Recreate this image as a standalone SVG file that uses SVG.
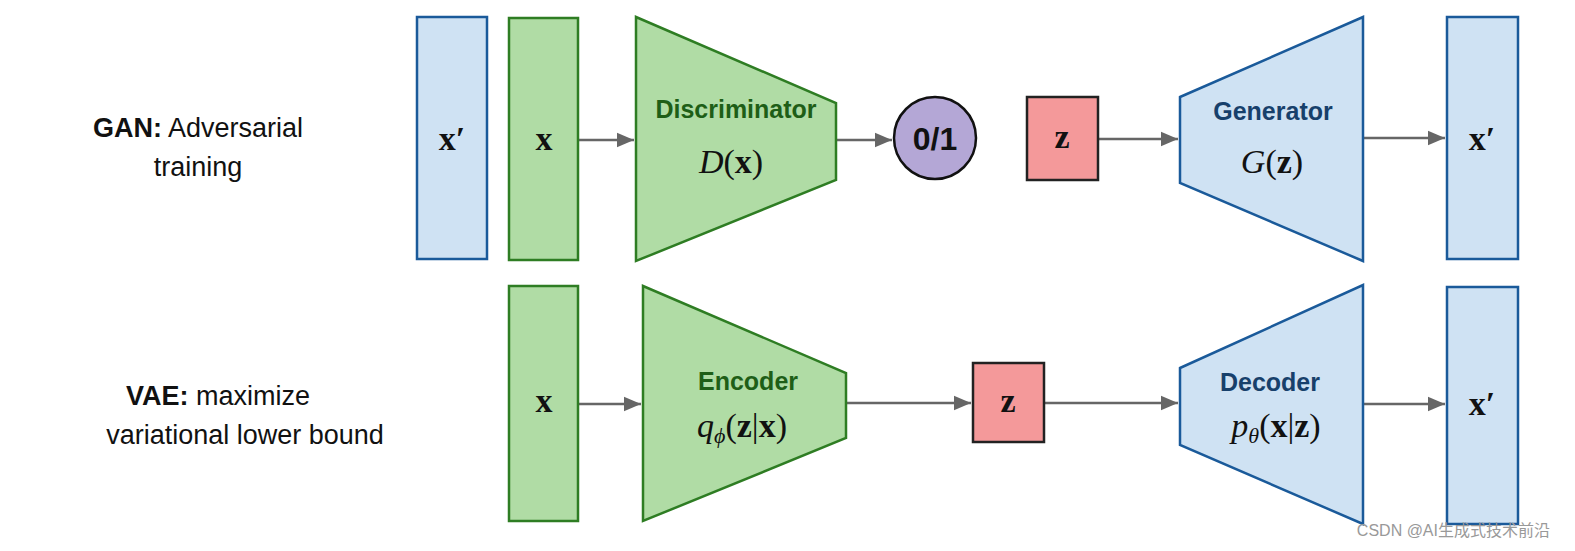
<svg xmlns="http://www.w3.org/2000/svg" width="1575" height="551" viewBox="0 0 1575 551">
<style>
.blue{fill:#cfe2f3;stroke:#1a5a9a;stroke-width:2.5}
.green{fill:#b0dca5;stroke:#2e7d23;stroke-width:2.5}
.red{fill:#f4999a;stroke:#222;stroke-width:2.5}
.purple{fill:#b4a7d6;stroke:#111;stroke-width:2.5}
.lbl{font-family:"Liberation Sans",Arial,sans-serif;font-size:27px;fill:#111;text-anchor:middle}
.m{font-family:"Liberation Serif","DejaVu Serif",serif;font-size:34px;fill:#111;text-anchor:middle}
.t{font-family:"Liberation Sans",Arial,sans-serif;font-weight:bold;font-size:25px;text-anchor:middle}
.c line{stroke:#666;stroke-width:2.5;marker-end:url(#ah)}
</style>
<defs><marker id="ah" markerWidth="8" markerHeight="8" refX="7" refY="4" orient="auto" markerUnits="strokeWidth"><path d="M0,1 L7,4 L0,7 z" fill="#666"/></marker></defs>
<rect width="1575" height="551" fill="#fff"/>
<g id="labels">
<text class="lbl" x="198" y="137"><tspan font-weight="bold">GAN:</tspan> Adversarial</text>
<text class="lbl" x="198" y="176">training</text>
<text class="lbl" x="218" y="405"><tspan font-weight="bold">VAE:</tspan> maximize</text>
<text class="lbl" x="245" y="444">variational lower bound</text>
</g>
<g class="c">
<line x1="578" y1="140" x2="634" y2="140"/>
<line x1="836" y1="140" x2="892" y2="140"/>
<line x1="1098" y1="139" x2="1178" y2="139"/>
<line x1="1363" y1="138" x2="1445" y2="138"/>
<line x1="578" y1="404" x2="641" y2="404"/>
<line x1="846" y1="403" x2="971" y2="403"/>
<line x1="1044" y1="403" x2="1178" y2="403"/>
<line x1="1363" y1="404" x2="1445" y2="404"/>
</g>
<g id="gan_xprime"><rect class="blue" x="417" y="17" width="70" height="242"/><text class="m" x="452" y="150" font-weight="bold">x′</text></g>
<g id="gan_x"><rect class="green" x="509" y="18" width="69" height="242"/><text class="m" x="544" y="150" font-weight="bold">x</text></g>
<g id="disc"><polygon class="green" points="636,17 836,103 836,180 636,261"/><text class="t" x="736" y="118" fill="#1e5e17">Discriminator</text><text class="m" x="731" y="173"><tspan font-style="italic">D</tspan>(<tspan font-weight="bold">x</tspan>)</text></g>
<g id="out"><circle class="purple" cx="935" cy="138" r="41"/><text x="935" y="150" font-family="Liberation Sans,Arial,sans-serif" font-weight="bold" font-size="32" text-anchor="middle" fill="#111">0/1</text></g>
<g id="gan_z"><rect class="red" x="1027" y="97" width="71" height="83"/><text class="m" x="1062" y="148" font-weight="bold">z</text></g>
<g id="gen"><polygon class="blue" points="1180,97 1363,17 1363,261 1180,183"/><text class="t" x="1273" y="120" fill="#17406b">Generator</text><text class="m" x="1272" y="173"><tspan font-style="italic">G</tspan>(<tspan font-weight="bold">z</tspan>)</text></g>
<g id="gan_out"><rect class="blue" x="1447" y="17" width="71" height="242"/><text class="m" x="1482" y="150" font-weight="bold">x′</text></g>
<g id="vae_x"><rect class="green" x="509" y="286" width="69" height="235"/><text class="m" x="544" y="412" font-weight="bold">x</text></g>
<g id="enc"><polygon class="green" points="643,286 846,373 846,438 643,521"/><text class="t" x="748" y="390" fill="#1e5e17">Encoder</text><text class="m" x="742" y="437"><tspan font-style="italic">q</tspan><tspan font-style="italic" font-size="22" dy="6">ϕ</tspan><tspan dy="-6">(</tspan><tspan font-weight="bold">z</tspan>|<tspan font-weight="bold">x</tspan>)</text></g>
<g id="vae_z"><rect class="red" x="973" y="363" width="71" height="79"/><text class="m" x="1008" y="412" font-weight="bold">z</text></g>
<g id="dec"><polygon class="blue" points="1180,368 1363,285 1363,524 1180,445"/><text class="t" x="1270" y="391" fill="#17406b">Decoder</text><text class="m" x="1276" y="437"><tspan font-style="italic">p</tspan><tspan font-style="italic" font-size="22" dy="6">θ</tspan><tspan dy="-6">(</tspan><tspan font-weight="bold">x</tspan>|<tspan font-weight="bold">z</tspan>)</text></g>
<g id="vae_out"><rect class="blue" x="1447" y="287" width="71" height="237"/><text class="m" x="1482" y="415" font-weight="bold">x′</text></g>
<text x="1550" y="536" text-anchor="end" font-family="Liberation Sans,Noto Sans CJK SC,sans-serif" font-size="16" fill="#999">CSDN @AI生成式技术前沿</text>
</svg>
